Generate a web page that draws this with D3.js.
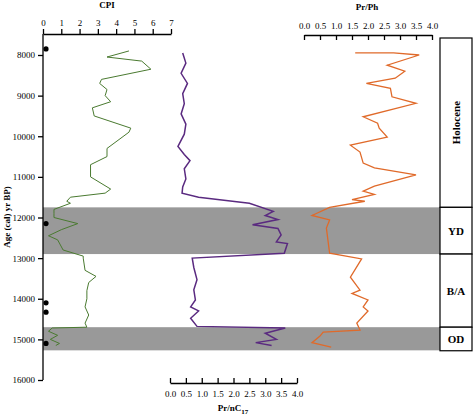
<!DOCTYPE html><html><head><meta charset="utf-8">
<script src="https://cdn.jsdelivr.net/npm/d3@7"></script>
<style>body{margin:0;background:#fff}text{font-family:"Liberation Serif","Times New Roman",serif}</style></head><body>
<svg id="c" width="474" height="420"></svg>
<script>
const cpiAge=[7900,8050,8150,8350,8600,8700,8850,9000,9150,9300,9500,9800,9900,10300,10500,10700,11000,11300,11400,11500,11600,11650,11800,11900,12000,12150,12300,12450,12550,12800,12950,13000,13300,13450,13600,13800,14000,14200,14400,14600,14700,14720,14800,14900,15000,15100,15150];
const cpiVal=[4.7,3.5,5.4,5.9,3.2,3.1,3.5,3.4,3.7,2.7,2.8,4.8,4.7,3.5,3.5,2.6,2.6,3.7,3.4,1.5,1.3,1.5,0.6,0.6,0.6,1.9,1.0,0.3,0.8,1.1,2.2,2.2,2.3,2.9,2.5,2.4,2.4,2.3,2.5,2.3,2.4,0.5,0.3,0.8,0.4,0.9,0.7];
const prcAge=[7950,8200,8450,8700,8950,9200,9450,9700,9950,10250,10450,10600,10800,11050,11250,11400,11500,11650,11850,11950,12050,12180,12270,12430,12600,12640,12880,13000,13230,13530,13780,14030,14200,14300,14480,14680,14720,14850,15000,15080,15150];
const prcVal=[0.4,0.5,0.35,0.55,0.4,0.45,0.35,0.5,0.45,0.25,0.45,0.63,0.45,0.5,0.4,0.38,0.9,2.5,3.25,3.0,3.4,2.6,3.4,3.5,3.35,3.7,3.6,0.7,0.75,0.85,0.75,0.8,0.65,0.9,0.65,0.85,3.63,3.0,3.35,2.7,3.2];
const pphAge=[7950,7950,8000,8250,8400,8570,8700,8820,9030,9190,9520,9680,9800,10020,10220,10390,10660,10780,10950,11230,11350,11430,11560,11600,11750,11950,12060,12260,12880,13020,13470,13790,13870,14030,14200,14300,14600,14770,14820,14920,15080,15190];
const pphVal=[1.6,2.8,3.6,2.6,3.15,2.85,1.95,2.7,2.75,3.5,1.85,2.3,2.35,2.6,1.45,1.75,1.85,2.2,3.5,2.2,1.85,2.2,1.5,1.9,0.8,0.25,0.8,0.7,0.8,1.8,1.45,1.75,1.5,2.0,1.85,2.0,1.65,1.75,0.6,0.5,0.25,0.85];
const dots=[7850,12150,14100,14330,15100];
const periods=[["Holocene",7600,11750],["YD",11750,12900],["B/A",12900,14700],["OD",14700,15280]];
const bands=[[11750,12900],[14700,15270]];
const svg=d3.select("#c");
const y=d3.scaleLinear().domain([8000,16000]).range([55,380]);
const xC=d3.scaleLinear().domain([0,7]).range([43,171]);
const xP=d3.scaleLinear().domain([0,4]).range([170,297]);
const xR=d3.scaleLinear().domain([0,4]).range([304,432]);
bands.forEach(b=>svg.append("rect").attr("x",43).attr("width",397).attr("y",y(b[0])).attr("height",y(b[1])-y(b[0])).attr("fill","#999"));
const fs="9px";
function ax(g){g.selectAll("text").style("font-size",fs).attr("fill","#000");g.selectAll("path,line").attr("stroke","#000").attr("stroke-width",1.3);}
svg.append("g").attr("transform","translate(43,0)").call(d3.axisLeft(y).tickValues(d3.range(8000,16001,1000)).tickFormat(d3.format("d")).tickSize(5).tickSizeOuter(0)).call(ax).call(g=>g.select("path").attr("d","M0,34V380"));
svg.append("g").attr("transform","translate(0,34)").call(d3.axisTop(xC).ticks(7).tickSize(5).tickSizeOuter(0)).call(ax);
svg.append("g").attr("transform","translate(0,383)").call(d3.axisTop(xP).tickValues(d3.range(0,4.01,0.5)).tickFormat(d3.format(".1f")).tickSize(5).tickSizeOuter(0)).call(ax).call(g=>g.selectAll("text").attr("y",14));
svg.append("g").attr("transform","translate(0,35)").call(d3.axisBottom(xR).tickValues(d3.range(0,4.01,0.5)).tickFormat(d3.format(".1f")).tickSize(5).tickSizeOuter(0)).call(ax).call(g=>g.selectAll("text").attr("y",-12));
const ln=(xs,ax,ys)=>d3.line().x((d,i)=>ax(xs[i])).y((d,i)=>y(ys[i]))(xs);
svg.append("path").attr("d",ln(cpiVal,xC,cpiAge)).attr("fill","none").attr("stroke","#4a7a30").attr("stroke-width",1);
svg.append("path").attr("d",ln(prcVal,xP,prcAge)).attr("fill","none").attr("stroke","#5a2a80").attr("stroke-width",1.5);
svg.append("path").attr("d",ln(pphVal,xR,pphAge)).attr("fill","none").attr("stroke","#e06a2a").attr("stroke-width",1.3);
dots.forEach(a=>svg.append("circle").attr("cx",46).attr("cy",y(a)).attr("r",2.6).attr("fill","#000"));
svg.append("text").attr("x",107).attr("y",8).attr("text-anchor","middle").style("font-size","9px").style("font-weight","bold").text("CPI");
svg.append("text").attr("x",367).attr("y",10).attr("text-anchor","middle").style("font-size","9px").style("font-weight","bold").text("Pr/Ph");
const t=svg.append("text").attr("x",233).attr("y",411).attr("text-anchor","middle").style("font-size","9px").style("font-weight","bold").text("Pr/nC");
t.append("tspan").attr("dy",3).style("font-size","7px").text("17");
svg.append("text").attr("transform","translate(10,217) rotate(-90)").attr("text-anchor","middle").style("font-size","9px").style("font-weight","bold").text("Age (cal) yr BP)");
periods.forEach(p=>{const y0=p[0]==="Holocene"?38:y(p[1]);const y1=y(p[2]);
svg.append("rect").attr("x",440).attr("width",32).attr("y",y0).attr("height",y1-y0).attr("fill","#fff").attr("stroke","#000").attr("stroke-width",1.2);
const cy=(y0+y1)/2;
if(p[0]==="Holocene")svg.append("text").attr("transform",`translate(460,${cy}) rotate(-90)`).attr("text-anchor","middle").style("font-size","11px").style("font-weight","bold").text(p[0]);
else svg.append("text").attr("x",456).attr("y",cy+4).attr("text-anchor","middle").style("font-size","11px").style("font-weight","bold").text(p[0]);});
</script></body></html>
